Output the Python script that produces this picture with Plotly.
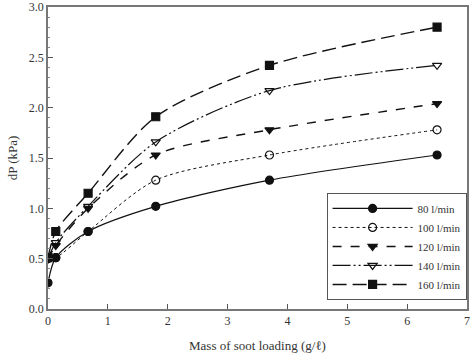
import plotly.graph_objects as go

soot = [0, 0.13, 0.67, 1.8, 3.7, 6.5]
dp_80 = [0.26, 0.51, 0.77, 1.02, 1.28, 1.53]
dp_100 = [0.50, 0.51, 0.77, 1.28, 1.53, 1.78]
dp_120 = [0.50, 0.63, 1.00, 1.53, 1.78, 2.04]
dp_140 = [0.50, 0.66, 1.02, 1.66, 2.17, 2.42]
dp_160 = [0.51, 0.77, 1.15, 1.91, 2.42, 2.80]
labels = ["80 l/min", "100 l/min", "120 l/min", "140 l/min", "160 l/min"]

series = [dp_80, dp_100, dp_120, dp_140, dp_160]
dashes = ["solid", "dot", "dash", "18px,3px,2px,3px,2px,3px", "14px,6px"]
symbols = ["circle", "circle-open", "triangle-down", "triangle-down-open", "square"]
widths = [1.2, 1.0, 1.4, 1.2, 1.4]

fig = go.Figure()
for ys, lab, d, s, w in zip(series, labels, dashes, symbols, widths):
    fig.add_trace(go.Scatter(
        x=soot, y=ys, name=lab, mode="lines+markers",
        line=dict(color="#111", dash=d, width=w, shape="spline", smoothing=0.8),
        marker=dict(symbol=s, size=8, color="#111", line=dict(color="#111", width=1.2)),
    ))

fam = "Liberation Serif, Times New Roman, serif"
font = dict(family=fam, color="#333", size=12)
axis_common = dict(
    showline=True, linecolor="#777", linewidth=1.5, mirror=True,
    ticks="inside", ticklen=5, tickcolor="#555", showgrid=False, zeroline=False,
    tickfont=dict(family=fam, color="#333", size=12),
    ticklabeloverflow="allow",
)
fig.update_xaxes(range=[0, 7], dtick=1, tick0=0,
                 title=dict(text="Mass of soot loading (g/ℓ)", font=dict(family=fam, size=13, color="#333"), standoff=14),
                 **axis_common)
fig.update_yaxes(range=[0, 3.0], dtick=0.5, tick0=0, tickformat=".1f",
                 minor=dict(ticks="inside", ticklen=2, dtick=0.1, tickcolor="#888"),
                 title=dict(text="dP (kPa)", font=dict(family=fam, size=13, color="#333"), standoff=8),
                 **axis_common)
fig.update_layout(
    width=474, height=361, margin=dict(l=48, r=7, t=7, b=52, autoexpand=False),
    plot_bgcolor="white", paper_bgcolor="white", font=font, showlegend=True,
    legend=dict(x=0.999, y=0.03, xanchor="right", yanchor="bottom",
                bordercolor="#555", borderwidth=1, bgcolor="white",
                itemwidth=80, font=dict(family=fam, size=11, color="#333"),
                tracegroupgap=0),
)
fig.write_html("out.html", config={"displayModeBar": False},
               post_script="document.body.style.margin='0px';")
